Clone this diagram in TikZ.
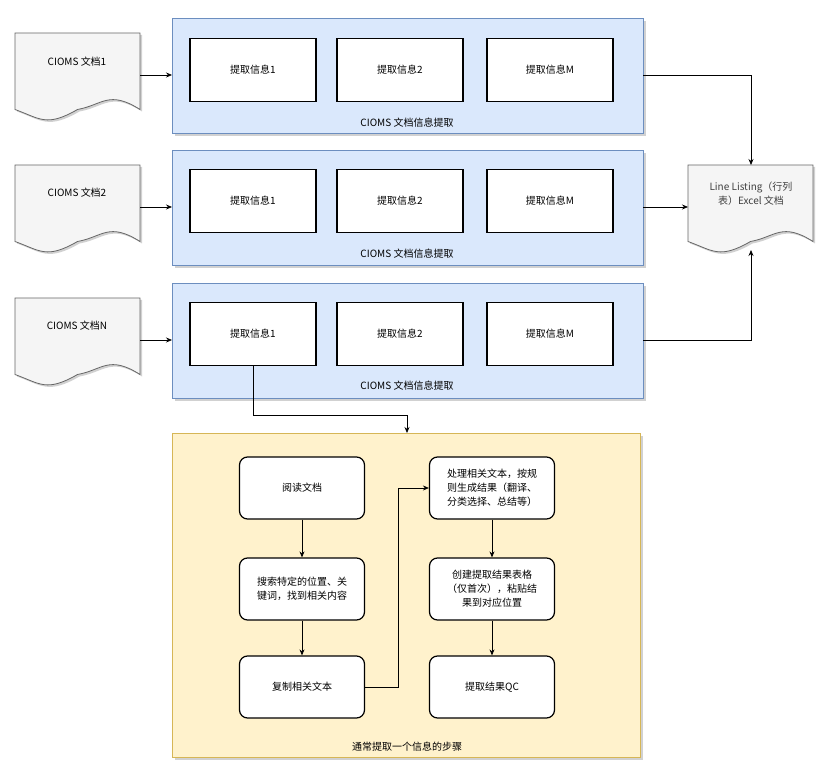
\documentclass[tikz,border=0pt]{standalone}
\usepackage{fontspec}
\setmainfont{Noto Sans CJK SC}
\usetikzlibrary{arrows.meta}
\definecolor{bluefill}{HTML}{DAE8FC}
\definecolor{blueline}{HTML}{6C8EBF}
\definecolor{yelfill}{HTML}{FFF2CC}
\definecolor{yelline}{HTML}{D6B656}
\definecolor{docfill}{HTML}{F5F5F5}
\definecolor{docline}{HTML}{666666}
\begin{document}
\begin{tikzpicture}[x=1pt,y=-1pt,font=\fontsize{10}{14}\selectfont,
  cont/.style={draw=blueline,fill=bluefill},
  ibox/.style={draw=black,line width=1.4pt,fill=white,minimum width=126pt,minimum height=63pt},
  stp/.style={draw=black,line width=1.2pt,fill=white,rounded corners=8pt,minimum width=125pt,minimum height=62pt,align=center},
  arr/.style={-{Stealth[length=6pt,width=5pt]},line width=0.7pt},
  shadowc/.style={fill=black!18}]
\useasboundingbox (0,0) rectangle (838,783);
\newcommand{\docpath}[4]{(#1,#2) -- ++(#3,0) -- ++(0,0.85*#4) .. controls +(-0.25*#3,-0.22*#4) and +(0.2*#3,-0.05*#4) .. ++(-0.5*#3,0) .. controls +(-0.25*#3,0.2*#4) and +(0.2*#3,0.1*#4) .. ++(-0.5*#3,0) -- cycle}
\newcommand{\mydoc}[4]{%
  \fill[shadowc,xshift=2pt,yshift=-2pt] \docpath{#1}{#2}{#3}{#4};
  \draw[docline,fill=docfill,line width=0.8pt] \docpath{#1}{#2}{#3}{#4};}
\foreach \y/\h in {18/115,150/115,283/115}{
  \fill[shadowc] (175,\y+3) rectangle (646,\y+\h+3);
}
\node[cont,minimum width=471pt,minimum height=115pt,anchor=north west] (c1) at (172,18) {};
\node[cont,minimum width=471pt,minimum height=115pt,anchor=north west] (c2) at (172,150) {};
\node[cont,minimum width=471pt,minimum height=115pt,anchor=north west] (c3) at (172,283) {};
\node (l1) at (407,123) {CIOMS 文档信息提取};
\node (l2) at (407,254) {CIOMS 文档信息提取};
\node (l3) at (407,386) {CIOMS 文档信息提取};
\foreach \r/\y in {1/70,2/201,3/334}{
  \node[ibox] (a\r) at (253,\y) {提取信息1};
  \node[ibox] (b\r) at (400,\y) {提取信息2};
  \node[ibox] (m\r) at (550,\y) {提取信息M};
}
\mydoc{15}{33}{125}{90}
\mydoc{15}{165}{125}{90}
\mydoc{15}{298}{125}{90}
\mydoc{688}{165}{125}{90}
\node (d1) at (77,62) {CIOMS 文档1};
\node (d2) at (77,193) {CIOMS 文档2};
\node (d3) at (77,326) {CIOMS 文档N};
\node[align=center,text=black!75] (out) at (751,194) {Line Listing（行列\\表）Excel 文档};
\coordinate (d1e) at (140,75);
\coordinate (d2e) at (140,207);
\coordinate (d3e) at (140,340);
\coordinate (outT) at (751,165);
\coordinate (outL) at (688,207);
\coordinate (outB) at (751,250);
\draw[arr] (d1e) -- (c1.west|-d1e);
\draw[arr] (d2e) -- (c2.west|-d2e);
\draw[arr] (d3e) -- (c3.west|-d3e);
\draw[arr] (c1.east|-d1e) -| (outT);
\draw[arr] (c2.east|-d2e) -- (outL);
\draw[arr] (c3.east|-d3e) -| (outB);
\fill[shadowc] (175,436) rectangle (643,760);
\node[draw=yelline,fill=yelfill,minimum width=468pt,minimum height=324pt,anchor=north west] (y) at (172,433) {};
\node (yl) at (407,747) {通常提取一个信息的步骤};
\coordinate (yt) at (407,433);
\draw[arr] (a3.south) |- (407,415) -- (yt);
\node[stp] (s1) at (302,488) {阅读文档};
\node[stp] (s2) at (302,589) {搜索特定的位置、关\\键词，找到相关内容};
\node[stp] (s3) at (302,687) {复制相关文本};
\node[stp] (s4) at (492,488) {处理相关文本，按规\\则生成结果（翻译、\\分类选择、总结等）};
\node[stp] (s5) at (492,589) {创建提取结果表格\\（仅首次），粘贴结\\果到对应位置};
\node[stp] (s6) at (492,687) {提取结果QC};
\draw[arr] (s1) -- (s2);
\draw[arr] (s2) -- (s3);
\draw[arr] (s4) -- (s5);
\draw[arr] (s5) -- (s6);
\draw[arr] (s3.east) -- (398,687) |- (s4.west);
\end{tikzpicture}
\end{document}
